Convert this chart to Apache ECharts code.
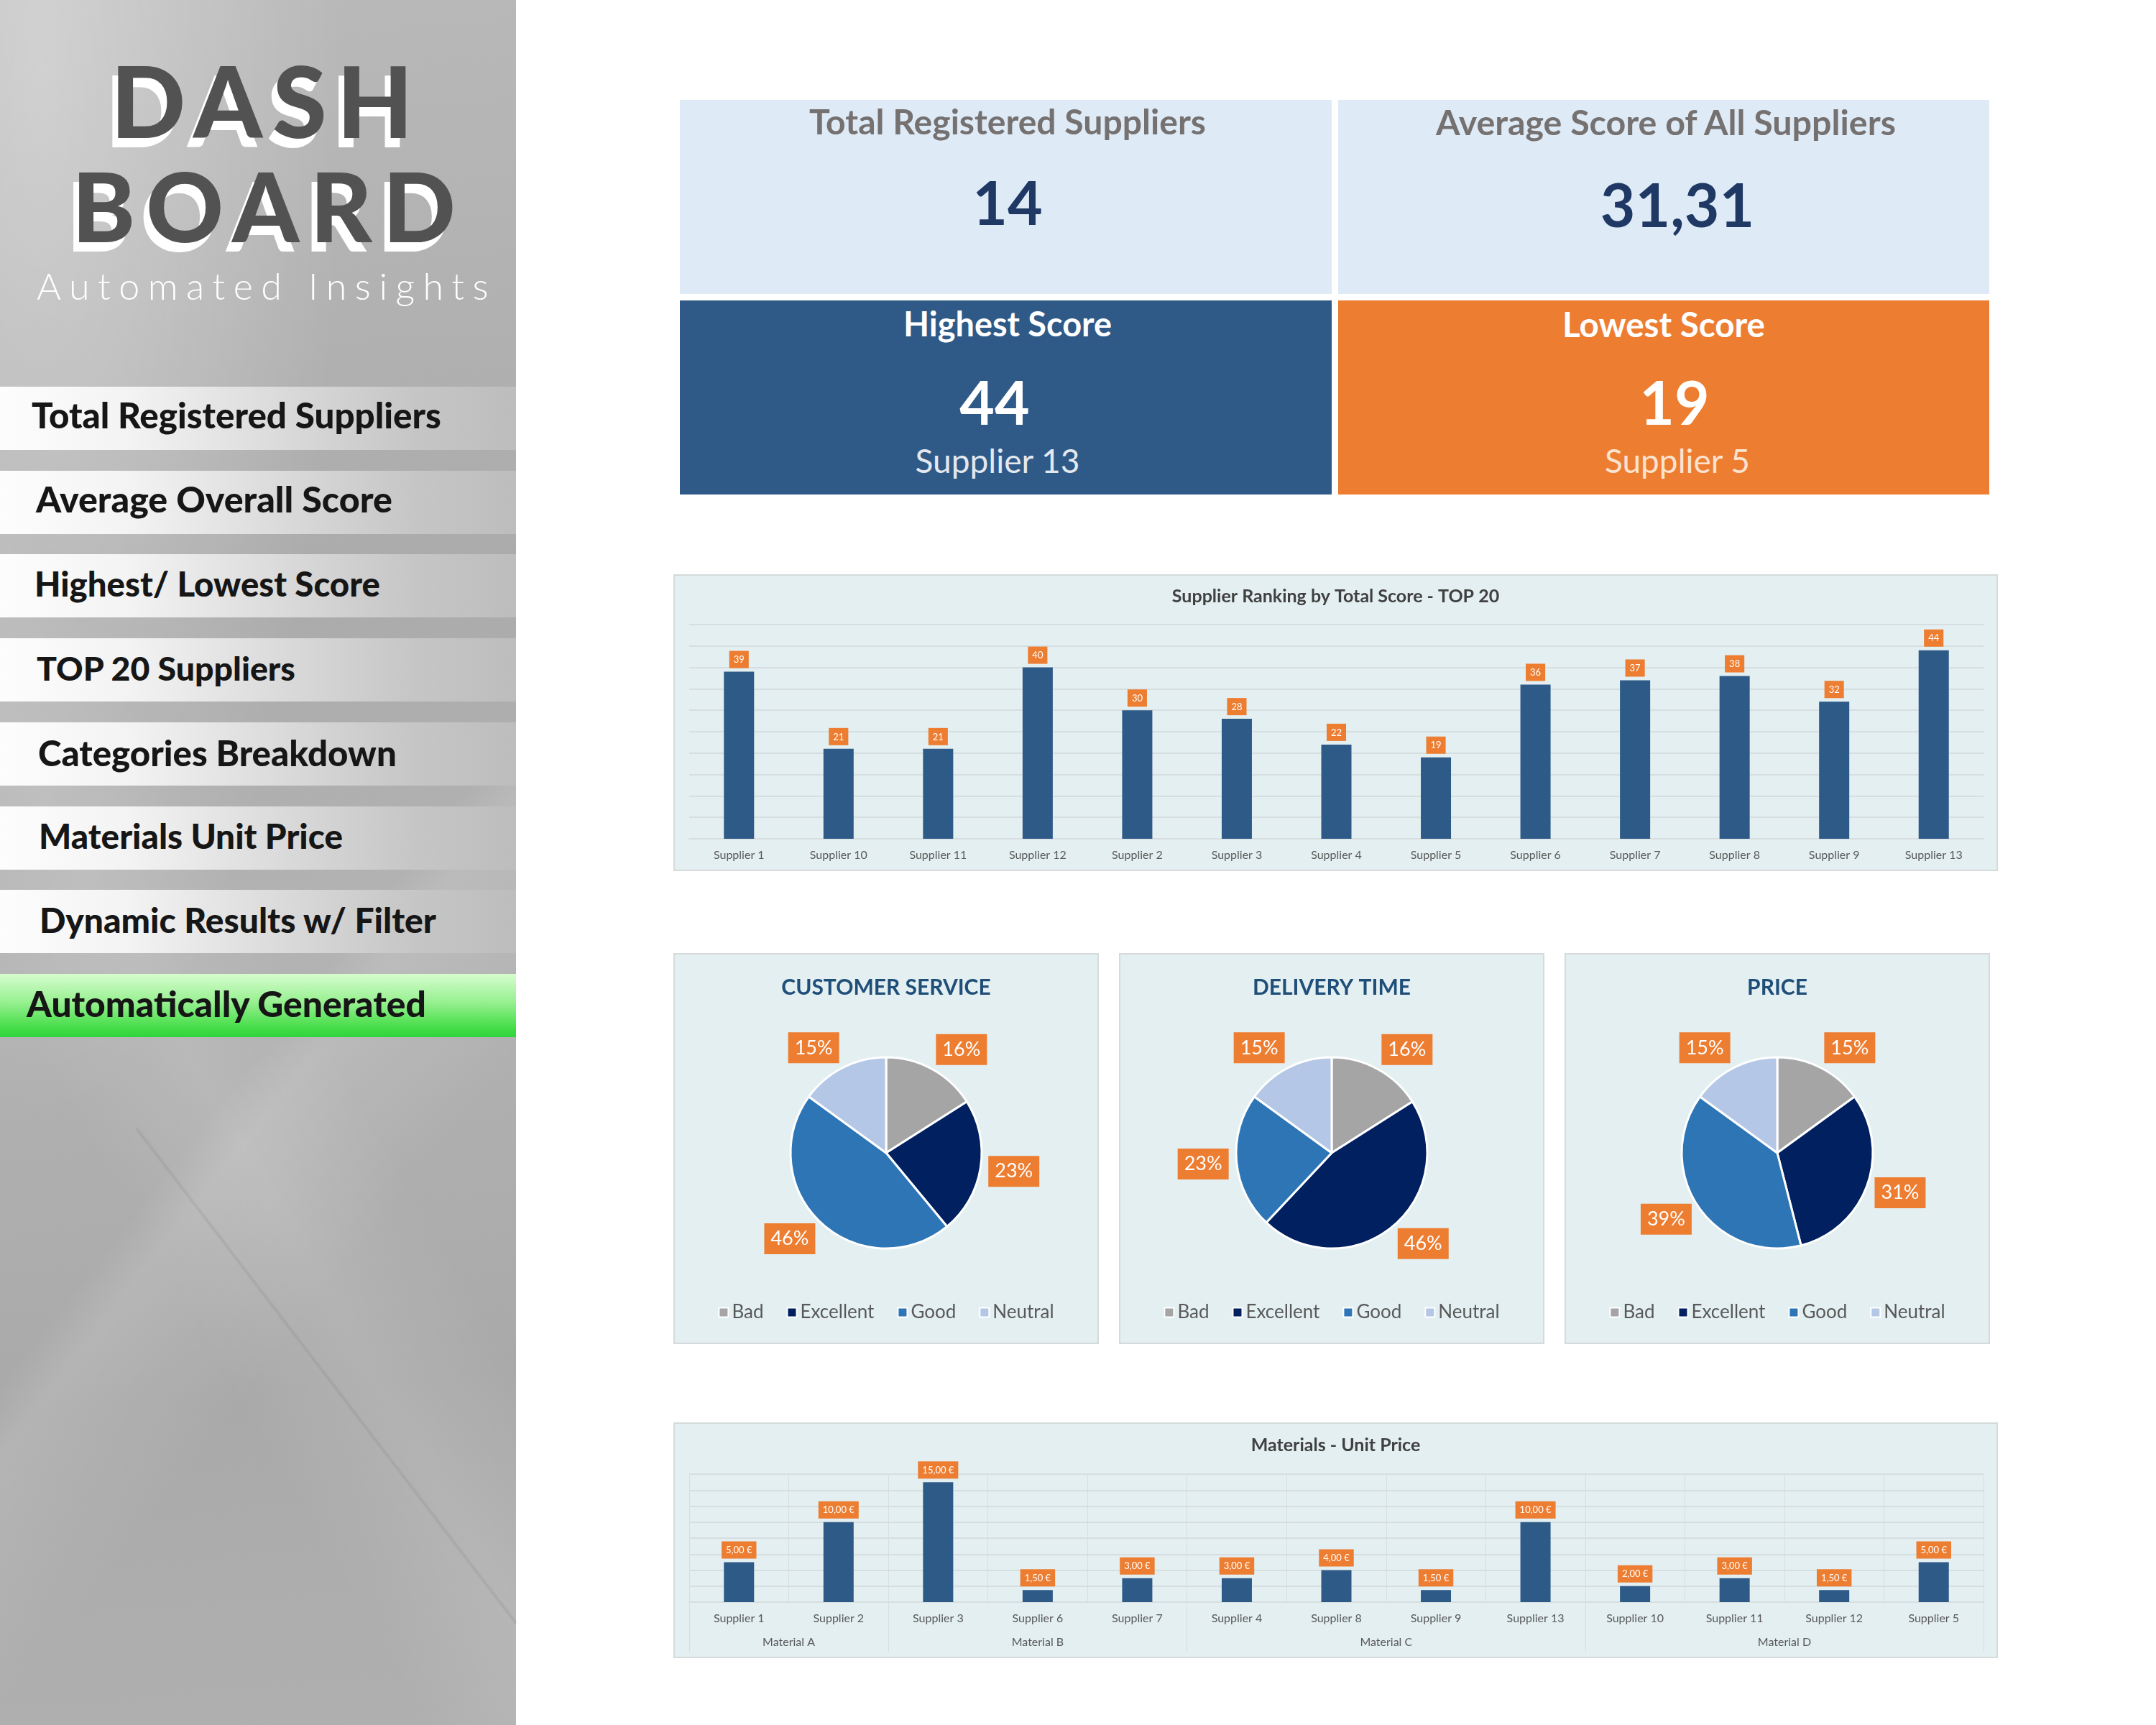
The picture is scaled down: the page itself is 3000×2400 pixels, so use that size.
<!DOCTYPE html>
<html>
<head>
<meta charset="utf-8">
<title>Supplier Dashboard</title>
<script src="https://cdn.jsdelivr.net/npm/echarts@6/dist/echarts.min.js"></script>
<style>
html, body { margin: 0; padding: 0; background: #ffffff; }
body { width: 3000px; height: 2400px; position: relative; overflow: hidden; font-family: Lato, "Noto Sans", sans-serif; }
#side {
  position: absolute; left: 0; top: 0; width: 718px; height: 2400px;
  background:
    linear-gradient(128deg, rgba(255,255,255,0) 58%, rgba(255,255,255,0.12) 61%, rgba(255,255,255,0) 72%),
    linear-gradient(60deg, rgba(255,255,255,0) 28%, rgba(255,255,255,0.10) 38%, rgba(255,255,255,0) 48%),
    radial-gradient(ellipse at 8% 4%, rgba(255,255,255,0.35), rgba(255,255,255,0) 45%),
    linear-gradient(175deg, #b9b9b9 0%, #ababab 35%, #b3b3b3 55%, #a9a9a9 80%, #b0b0b0 100%);
}
#streak { position: absolute; left: 191px; top: 1569px; width: 868px; height: 3px; background: rgba(85,85,85,0.16); transform-origin: 0 0; transform: rotate(52.5deg); filter: blur(1px); }
.menu { position: absolute; left: 0; width: 718px; height: 88px; background: linear-gradient(90deg, #fdfdfd 0%, #f3f3f3 25%, #dadada 55%, #c6c6c6 80%, #bdbdbd 100%); }
.menu.green { background: linear-gradient(180deg, #d6fcce 0%, #97f090 45%, #45dd48 85%, #2fd43a 100%); }
.tile { position: absolute; }
.box { position: absolute; box-sizing: border-box; border: 2px solid #d5dadb; background: #e3eff1; }
.txt { position: absolute; white-space: nowrap; line-height: 1; }
</style>
</head>
<body>
<div id="side"></div>
<div id="streak"></div>

<div class="tile" style="left:946px;top:139px;width:907px;height:270px;background:#deebf7"></div>
<div class="tile" style="left:1862px;top:139px;width:906px;height:270px;background:#deebf7"></div>
<div class="tile" style="left:946px;top:418px;width:907px;height:270px;background:#2f5a88"></div>
<div class="tile" style="left:1862px;top:418px;width:906px;height:270px;background:#ed7d31"></div>

<div id="rankChart" class="box" style="left:937px;top:799px;width:1843px;height:413px"></div>
<div id="csChart" class="box" style="left:937px;top:1326px;width:592px;height:544px"></div>
<div id="dtChart" class="box" style="left:1557px;top:1326px;width:592px;height:544px"></div>
<div id="prChart" class="box" style="left:2177px;top:1326px;width:592px;height:544px"></div>
<div id="matChart" class="box" style="left:937px;top:1979px;width:1843px;height:328px"></div>

<script>
// sidebar menu
const menuItems = ['Total Registered Suppliers', 'Average  Overall Score', 'Highest/ Lowest Score', 'TOP 20 Suppliers',
  'Categories Breakdown', 'Materials Unit Price', 'Dynamic Results w/ Filter', 'Automatically Generated'];

// KPI tiles
const totalSuppliers = 14;
const highestScore = 44;
const highestSupplier = 'Supplier 13';
const lowestScore = 19;
const lowestSupplier = 'Supplier 5';

// ranking chart
const rankSuppliers = ['Supplier 1', 'Supplier 10', 'Supplier 11', 'Supplier 12', 'Supplier 2', 'Supplier 3', 'Supplier 4',
  'Supplier 5', 'Supplier 6', 'Supplier 7', 'Supplier 8', 'Supplier 9', 'Supplier 13'];
const rankScores = [39, 21, 21, 40, 30, 28, 22, 19, 36, 37, 38, 32, 44];

// category pies
const ratingLevels = ['Bad', 'Excellent', 'Good', 'Neutral'];
const customerService = [16, 23, 46, 15];
const deliveryTime = [16, 46, 23, 15];
const priceRating = [15, 31, 39, 15];

// materials unit price
const materialSuppliers = ['Supplier 1', 'Supplier 2', 'Supplier 3', 'Supplier 6', 'Supplier 7', 'Supplier 4', 'Supplier 8',
  'Supplier 9', 'Supplier 13', 'Supplier 10', 'Supplier 11', 'Supplier 12', 'Supplier 5'];
const unitPrices = [5, 10, 15, 1.5, 3, 3, 4, 1.5, 10, 2, 3, 1.5, 5];
const materialNames = ['Material A', 'Material B', 'Material C', 'Material D'];
const materialSizes = [2, 3, 4, 4];

const averageScore = rankScores.reduce((a, b) => a + b, 0) / rankScores.length;

// menu bars
menuItems.forEach((item, i) => {
  const bar = document.createElement('div');
  bar.className = 'menu' + (i === menuItems.length - 1 ? ' green' : '');
  bar.style.top = (538 + i * 116.7) + 'px';
  document.body.appendChild(bar);
});

// text helper: x or cx, baseline, optional width fit
function place(text, o) {
  const el = document.createElement('div');
  el.className = 'txt';
  el.textContent = text;
  el.style.fontSize = o.size + 'px';
  el.style.fontWeight = o.weight || 400;
  el.style.color = o.color;
  if (o.spacing) el.style.letterSpacing = o.spacing + 'px';
  if (o.shadow) el.style.textShadow = o.shadow;
  document.body.appendChild(el);
  let size = o.size;
  if (o.width) {
    size = size * o.width / el.getBoundingClientRect().width;
    el.style.fontSize = size + 'px';
  }
  const w = el.getBoundingClientRect().width;
  el.style.left = (o.cx !== undefined ? o.cx - w / 2 : o.x) + 'px';
  el.style.top = (o.base - 0.887 * size) + 'px';
}

place('DASH', {x: 154, base: 193, size: 137, weight: 900, color: '#525252', spacing: 14, shadow: '-8px 13px 0 #ffffff'});
place('BOARD', {x: 100, base: 337, size: 133, weight: 900, color: '#525252', spacing: 15, shadow: '-8px 13px 0 #ffffff'});
place('Automated Insights', {x: 51, base: 417, size: 52, weight: 300, color: '#ffffff', spacing: 11.5});

const menuText = [[44, 597, 570], [50, 714, 496], [48, 830, 481], [51, 947, 360], [53, 1066, 499], [54, 1181, 423], [55, 1299, 552], [37, 1416, 556]];
menuItems.forEach((item, i) => {
  const m = menuText[i];
  place(item, {x: m[0], base: m[1], size: 46, weight: 900, color: '#161616', width: m[2]});
});

place('Total Registered Suppliers', {cx: 1402, base: 188, size: 43, weight: 700, color: '#767171', width: 552});
place(String(totalSuppliers), {cx: 1402, base: 314, size: 84, weight: 700, color: '#1f3864'});
place('Average Score of All Suppliers', {cx: 2318, base: 188, size: 43, weight: 700, color: '#767171', width: 640});
place(averageScore.toFixed(2).replace('.', ','), {cx: 2334, base: 317, size: 84, weight: 700, color: '#1f3864'});
place('Highest Score', {cx: 1402, base: 469, size: 43, weight: 700, color: '#ffffff', width: 290});
place(String(highestScore), {cx: 1384, base: 592, size: 84, weight: 700, color: '#ffffff'});
place(highestSupplier, {cx: 1388, base: 659, size: 41, weight: 400, color: '#e4e8ee', width: 229});
place('Lowest Score', {cx: 2315, base: 469, size: 43, weight: 700, color: '#ffffff', width: 282});
place(String(lowestScore), {cx: 2330, base: 592, size: 84, weight: 700, color: '#ffffff'});
place(lowestSupplier, {cx: 2334, base: 659, size: 41, weight: 400, color: '#fbe3d0', width: 202});

const gridColor = '#d6dee0';
const barColor = '#2e5a88';
const tagColor = '#ed7d31';

// ranking bar chart
const rankChart = echarts.init(document.getElementById('rankChart'));
rankChart.setOption({
  textStyle: {fontFamily: 'Lato'},
  title: {text: 'Supplier Ranking by Total Score - TOP 20', left: 'center', top: 16, padding: 0,
    textStyle: {fontSize: 25, fontWeight: 'bold', color: '#404040'}},
  grid: {left: 20, right: 18, top: 68, bottom: 43},
  xAxis: {
    type: 'category', data: rankSuppliers,
    axisLine: {lineStyle: {color: gridColor, width: 2}},
    axisTick: {show: false},
    axisLabel: {interval: 0, fontSize: 16, color: '#595959', margin: 15}
  },
  yAxis: {
    type: 'value', min: 0, max: 50, interval: 5,
    axisLabel: {show: false}, axisLine: {show: false}, axisTick: {show: false},
    splitLine: {lineStyle: {color: gridColor, width: 2}}
  },
  series: [{
    type: 'bar', data: rankScores, barWidth: 42,
    itemStyle: {color: barColor},
    label: {show: true, position: 'top', distance: 5, color: '#ffffff', fontSize: 13,
      backgroundColor: tagColor, padding: [6, 6, 5, 6]}
  }]
});

// category pies
const ratingColors = ['#a5a5a5', '#002060', '#2e75b6', '#b4c7e7'];
const pieCx = 294, pieCy = 276, pieR = 133;
function pieOption(title, values) {
  const data = ratingLevels.map((name, i) => ({name: name, value: values[i]}));
  const total = values.reduce((a, b) => a + b, 0);
  let cum = 0;
  const mids = values.map(v => {
    const m = (90 - (cum + v / 2) / total * 360) * Math.PI / 180;
    cum += v;
    return m;
  });
  return {
    textStyle: {fontFamily: 'Lato'},
    color: ratingColors,
    title: {text: title, left: 'center', top: 31, padding: 0,
      textStyle: {fontSize: 30, fontWeight: 'bold', color: '#1f4e79'}},
    legend: {top: 480, left: 'center', icon: 'rect', itemWidth: 13, itemHeight: 13, itemGap: 32,
      textStyle: {fontSize: 26, color: '#595959'}, data: ratingLevels},
    series: [{
      type: 'pie', radius: pieR, center: [pieCx, pieCy], startAngle: 90,
      itemStyle: {borderColor: '#ffffff', borderWidth: 3},
      label: {show: true, position: 'outside', formatter: p => p.value + '%', color: '#ffffff',
        fontSize: 27, backgroundColor: tagColor, padding: [8, 9]},
      labelLine: {show: false},
      labelLayout: p => {
        const a = mids[p.dataIndex];
        const c = Math.cos(a), s = Math.sin(a);
        return {
          x: pieCx + (pieR + 11) * c,
          y: pieCy - (pieR + 11) * s - 20 * s,
          align: c >= 0 ? 'left' : 'right',
          verticalAlign: 'middle'
        };
      },
      emphasis: {disabled: true}, data: data
    }]
  };
}
echarts.init(document.getElementById('csChart')).setOption(pieOption('CUSTOMER SERVICE', customerService));
echarts.init(document.getElementById('dtChart')).setOption(pieOption('DELIVERY TIME', deliveryTime));
echarts.init(document.getElementById('prChart')).setOption(pieOption('PRICE', priceRating));

// materials chart
const groupStarts = [];
let acc = 0;
materialSizes.forEach(s => { groupStarts.push(acc); acc += s; });

const matChart = echarts.init(document.getElementById('matChart'));
matChart.setOption({
  textStyle: {fontFamily: 'Lato'},
  title: {text: 'Materials - Unit Price', left: 'center', top: 17, padding: 0,
    textStyle: {fontSize: 25, fontWeight: 'bold', color: '#404040'}},
  grid: {left: 20, right: 18, top: 70, bottom: 76},
  xAxis: [
    {
      type: 'category', data: materialSuppliers,
      axisLine: {lineStyle: {color: gridColor, width: 2}},
      axisTick: {show: true, interval: i => groupStarts.includes(i), length: 69, lineStyle: {color: gridColor, width: 1}},
      splitLine: {show: true, interval: 0, lineStyle: {color: gridColor, width: 1}},
      axisLabel: {interval: 0, fontSize: 16, color: '#595959', margin: 15}
    },
    {
      type: 'value', min: 0, max: 13, interval: 0.5, position: 'bottom',
      axisLine: {show: false}, axisTick: {show: false}, splitLine: {show: false},
      axisLabel: {
        margin: 48, fontSize: 16, color: '#595959',
        formatter: v => {
          const k = groupStarts.findIndex((s, i) => Math.abs(s + materialSizes[i] / 2 - v) < 1e-6);
          return k >= 0 ? materialNames[k] : '';
        }
      }
    }
  ],
  yAxis: {
    type: 'value', min: 0, max: 16, interval: 2,
    axisLabel: {show: false}, axisLine: {show: false}, axisTick: {show: false},
    splitLine: {lineStyle: {color: gridColor, width: 2}}
  },
  series: [{
    type: 'bar', data: unitPrices, barWidth: 42, xAxisIndex: 0,
    itemStyle: {color: barColor},
    label: {show: true, position: 'top', distance: 5, color: '#ffffff', fontSize: 13,
      backgroundColor: tagColor, padding: [6, 6, 5, 6],
      formatter: p => p.value.toFixed(2).replace('.', ',') + ' €'}
  }]
});
</script>
</body>
</html>
